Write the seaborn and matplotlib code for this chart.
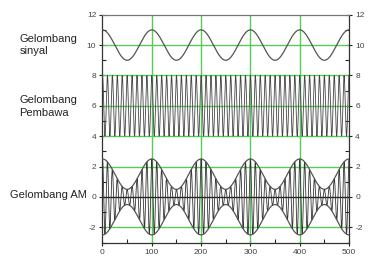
import numpy as np
import pandas as pd
import seaborn as sns
import matplotlib
matplotlib.use("Agg")
import matplotlib.pyplot as plt
from matplotlib.ticker import MultipleLocator

# Data parameters
signal_offset = 10.0
signal_amp = 1.0
signal_period = 100.0
carrier_offset = 6.0
carrier_amp = 2.0
carrier_period = 10.0
am_base_amp = 1.5
am_mod_amp = 1.0
x_start, x_end = 0, 500
y_ticks = [-2, 0, 2, 4, 6, 8, 10, 12]
x_ticks = [0, 100, 200, 300, 400, 500]
green_h = [-2, 2, 4, 6, 8, 10]
green_v = [100, 200, 300, 400]
labels = ["Gelombang\nsinyal", "Gelombang\nPembawa", "Gelombang AM"]
label_y = [10.0, 5.95, 0.13]

x = np.linspace(x_start, x_end, 5001)
signal = signal_offset + signal_amp * np.cos(2 * np.pi * x / signal_period)
carrier = carrier_offset + carrier_amp * np.cos(2 * np.pi * x / carrier_period)
env = am_base_amp + am_mod_amp * np.cos(2 * np.pi * x / signal_period)
am = env * np.cos(2 * np.pi * x / carrier_period)

df = pd.DataFrame({"x": x, "signal": signal, "carrier": carrier, "am": am,
                   "env_up": env, "env_dn": -env})

sns.set_style("white")
plt.rcParams['font.family'] = ['Liberation Sans', 'DejaVu Sans']
plt.rcParams['axes.unicode_minus'] = False

fig = plt.figure(figsize=(3.77, 2.65), dpi=100)
ax = fig.add_axes([102.5 / 377, 1 - 242.5 / 265, (349 - 102.5) / 377, (242.5 - 14.7) / 265])

for yv in green_h:
    ax.axhline(yv, color="#55cc55", lw=1.0, zorder=1)
for xv in green_v:
    ax.axvline(xv, color="#55cc55", lw=1.0, zorder=1)
ax.axhline(0, color="#222222", lw=1.0, zorder=2)

sns.lineplot(data=df, x="x", y="signal", ax=ax, color="#555555", lw=0.9, zorder=3)
sns.lineplot(data=df, x="x", y="carrier", ax=ax, color="#444444", lw=0.6, zorder=3)
sns.lineplot(data=df, x="x", y="am", ax=ax, color="#333333", lw=0.6, zorder=3)
sns.lineplot(data=df, x="x", y="env_up", ax=ax, color="#555555", lw=0.9, zorder=4)
sns.lineplot(data=df, x="x", y="env_dn", ax=ax, color="#555555", lw=0.9, zorder=4)

ax.set_xlim(x_start, x_end)
ax.set_ylim(-3, 12)
ax.set_xticks(x_ticks)
ax.set_yticks(y_ticks)
ax.xaxis.set_minor_locator(MultipleLocator(50))
ax.yaxis.set_minor_locator(MultipleLocator(1))
ax.set_xlabel("")
ax.set_ylabel("")
ax.tick_params(axis="both", which="major", direction="inout", length=5, width=0.8,
               labelsize=6, colors="#222222", labelcolor="#444444", pad=2)
ax.tick_params(axis="both", which="minor", direction="in", length=3, width=0.8)
ax.tick_params(axis="y", which="both", left=True, right=True, labelleft=True, labelright=True)
ax.tick_params(axis="x", which="both", bottom=True, top=False)
for sp in ax.spines.values():
    sp.set_color("#333333")
    sp.set_linewidth(0.9)
ax.spines["top"].set_color("#777777")

for lab, yv in zip(labels, label_y):
    ax.text(-0.22, yv, lab, transform=ax.get_yaxis_transform(), ha="center", va="center",
            fontsize=8, color="#222222", multialignment="left", linespacing=1.3)

fig.savefig("out.png", dpi=100)
